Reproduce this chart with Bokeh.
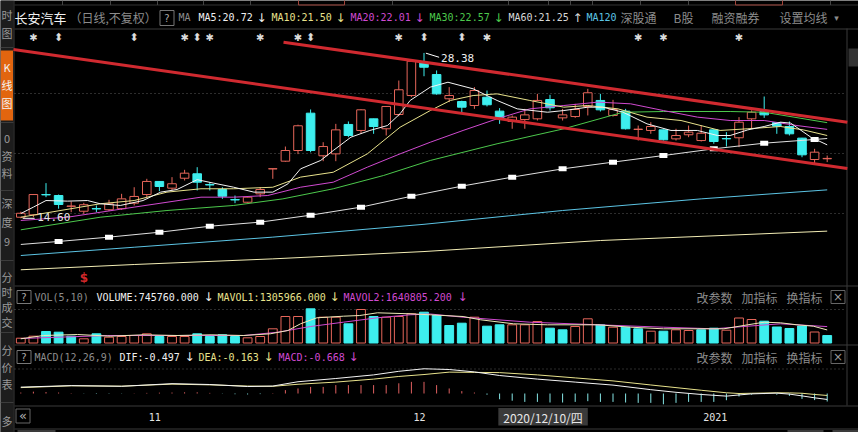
from bokeh.plotting import figure
from bokeh.models import Range1d
from bokeh.core.properties import value
from bokeh.embed import file_html
from bokeh.resources import INLINE

W, H = 858, 432
MONO = "DejaVu Sans Mono"
CJK = "Noto Sans CJK SC"
SANS = "DejaVu Sans"

# ---------------- data ----------------
opens = [14.69, 14.89, 16.58, 16.50, 15.60, 15.19, 15.40, 15.31, 15.40, 15.86,
         16.58, 17.67, 17.11, 17.94, 18.31, 17.40, 17.00, 16.15, 15.94, 16.64,
         18.72, 19.36, 20.25, 23.36, 19.81, 19.97, 22.42, 21.92, 22.89, 22.06,
         23.25, 24.83, 27.56, 26.58, 24.56, 24.33, 24.00, 24.69, 23.53, 22.67,
         22.83, 22.89, 24.50, 22.97, 23.08, 23.92, 24.42, 23.17, 23.53, 22.00,
         21.92, 21.97, 21.22, 21.56, 21.08, 21.97, 21.25, 21.31, 22.89, 23.50,
         22.58, 22.25, 21.28, 19.50, 19.56]
highs = [15.15, 16.62, 17.53, 16.58, 16.00, 15.89, 15.67, 16.14, 16.64, 17.19,
         17.89, 17.70, 18.03, 18.64, 18.86, 17.61, 17.19, 16.50, 16.40, 17.19,
         18.72, 20.58, 22.40, 23.67, 20.94, 22.47, 22.67, 23.70, 22.90, 23.95,
         26.08, 27.75, 28.38, 26.92, 25.53, 24.40, 25.53, 25.25, 23.78, 23.17,
         23.72, 24.97, 24.89, 23.72, 24.14, 25.39, 24.97, 24.47, 23.72, 22.33,
         22.61, 22.00, 22.06, 22.33, 22.33, 22.00, 21.78, 23.03, 23.60, 24.75,
         22.60, 22.67, 21.30, 20.39, 19.83]
lows = [14.60, 14.69, 16.36, 15.40, 15.11, 14.97, 15.11, 15.20, 15.30, 15.67,
        16.36, 16.86, 16.92, 17.75, 16.92, 16.92, 16.22, 15.86, 15.90, 16.36,
        17.89, 19.30, 19.95, 20.10, 19.36, 19.36, 21.36, 21.64, 21.64, 21.50,
        23.10, 24.70, 26.44, 24.90, 24.28, 23.44, 23.72, 23.92, 22.47, 22.06,
        22.06, 22.75, 23.58, 22.75, 22.97, 23.17, 23.50, 23.08, 22.00, 21.08,
        21.64, 21.08, 21.08, 21.36, 21.00, 20.81, 20.58, 20.53, 22.06, 22.97,
        21.64, 21.50, 19.69, 19.14, 19.28]
closes = [15.02, 16.58, 16.55, 15.75, 15.61, 15.73, 15.38, 15.81, 16.22, 16.42,
          17.67, 17.25, 17.48, 18.36, 17.61, 17.38, 16.44, 16.13, 16.36, 17.00,
          18.72, 20.25, 22.31, 20.25, 20.58, 21.97, 21.50, 23.64, 22.25, 23.92,
          25.31, 27.69, 27.19, 24.97, 24.83, 23.86, 25.25, 24.06, 22.97, 23.03,
          23.22, 24.42, 23.81, 23.22, 23.67, 25.06, 23.64, 23.66, 22.06, 22.03,
          22.25, 21.14, 21.50, 21.78, 21.69, 21.00, 21.22, 22.61, 23.44, 23.22,
          22.28, 21.64, 19.89, 20.11, 19.58]
volumes = [4.8e5, 6.8e5, 1.15e6, 1.08e6, 6.8e5, 4.2e5, 9.2e5, 5.8e5, 6.5e5, 7.5e5,
           9.2e5, 6.5e5, 6.5e5, 6.5e5, 9.2e5, 6.5e5, 8.2e5, 6.5e5, 5.2e5, 6.5e5,
           1.42e6, 2.65e6, 2.65e6, 3.42e6, 2.58e6, 2.58e6, 1.92e6, 3.35e6, 2.65e6, 2.58e6,
           2.65e6, 2.92e6, 3.08e6, 2.75e6, 1.75e6, 1.98e6, 2.58e6, 1.68e6, 1.82e6, 1.82e6,
           1.82e6, 2.15e6, 1.48e6, 1.32e6, 1.65e6, 2.42e6, 1.82e6, 1.58e6, 1.58e6, 1.42e6,
           1.18e6, 1.18e6, 1.32e6, 1.25e6, 1.32e6, 1.48e6, 1.28e6, 2.50e6, 2.35e6, 2.18e6,
           1.60e6, 1.45e6, 1.70e6, 1.10e6, 745760]
macd_hist = [0.08, 0.15, 0.12, 0.08, 0.03, -0.02, -0.04, -0.03, -0.02, 0.02,
             0.05, 0.07, 0.08, 0.10, 0.10, 0.05, -0.02, -0.06, -0.08, -0.05,
             0.03, 0.28, 0.42, 0.55, 0.55, 0.70, 0.70, 0.70, 0.70, 0.70,
             0.85, 0.97, 0.97, 0.70, 0.42, 0.20, 0.08, -0.10, -0.48, -0.60,
             -0.70, -0.70, -0.75, -0.75, -0.70, -0.64, -0.70, -0.70, -0.75, -0.78,
             -0.78, -0.90, -0.78, -0.70, -0.70, -0.70, -0.56, -0.25, -0.10, -0.05,
             -0.10, -0.20, -0.45, -0.55, -0.668]

# moving averages, read at sampled bar positions
ma5_i = [0, 1, 2, 3.7, 5.3, 6.3, 7.9, 9.7, 11.1, 12.4, 14, 15.3, 16.9, 18.5, 20, 21.2,
         22.2, 23.8, 24.8, 26.2, 27.7, 29.1, 30.1, 30.9, 32.5, 33.9, 35.9, 37.8, 39.4,
         41.8, 43.1, 45, 46.2, 47.8, 49.7, 51.6, 53.7, 55.3, 56.3, 57.7, 59, 60.3, 61.1,
         62.7, 64]
ma5_v = [15.0, 15.53, 16.08, 16.03, 16.08, 15.81, 15.67, 16.08, 16.78, 17.0, 17.82, 17.53,
         17.19, 16.78, 16.78, 17.47, 18.72, 19.42, 20.25, 21.36, 21.92, 22.33, 23.31, 24.42,
         25.53, 25.94, 25.39, 24.42, 23.72, 23.44, 23.58, 23.86, 23.86, 23.44, 22.47, 21.92,
         21.92, 21.5, 21.5, 21.97, 22.25, 22.61, 22.53, 21.36, 20.72]
ma10_i = [0, 6.3, 9, 11.6, 14.3, 16.9, 20, 22.2, 24.8, 27.5, 30.1, 32.5, 34.1, 35.9, 37.8,
          40.4, 43.1, 45, 47.4, 49.7, 52.4, 55.5, 57.7, 60.3, 62.1, 64]
ma10_v = [14.69, 15.81, 16.08, 16.78, 17.06, 17.06, 17.19, 18.03, 18.44, 19.97, 22.19, 23.58,
          24.42, 24.83, 24.97, 24.42, 23.86, 24.0, 23.72, 23.03, 22.75, 21.92, 22.06, 22.25,
          21.97, 21.50]
ma20_i = [0, 3.7, 9, 14.3, 16.9, 19.6, 22.2, 24.8, 27.5, 30.1, 32.5, 35.1, 37.8, 40.4, 43.1,
          45.8, 48.4, 51, 53.7, 56.3, 59, 61.6, 64]
ma20_v = [14.42, 14.69, 15.53, 16.36, 16.36, 16.5, 17.19, 17.61, 18.86, 19.97, 20.94, 21.92,
          22.89, 23.72, 24.0, 24.28, 24.14, 23.58, 23.03, 22.75, 22.75, 22.33, 22.01]
ma30_i = [0, 6.3, 11.6, 16.9, 20.8, 24.8, 28.8, 32.5, 37.8, 43.1, 47.8, 51, 56.3, 59, 64]
ma30_v = [13.64, 14.69, 15.25, 15.67, 16.22, 17.06, 18.17, 19.42, 20.81, 22.06, 23.44, 23.5,
          23.5, 23.44, 22.57]
ma60_i = [0, 3, 7, 11, 15, 19, 23, 27, 31, 35, 39, 43, 47, 51, 55, 59, 63, 64]
ma60_v = [12.42, 12.67, 13.03, 13.44, 13.94, 14.28, 14.86, 15.53, 16.44, 17.28, 18.03, 18.72,
          19.28, 19.83, 20.39, 20.86, 21.17, 21.25]
ma120_i = [0, 9, 20, 32, 43, 54, 64]
ma120_v = [11.5, 12.19, 13.03, 14.1, 15.25, 16.22, 16.97]
ma250_i = [0, 9, 20, 32, 46, 64]
ma250_v = [10.31, 10.75, 11.22, 11.83, 12.75, 13.53]

mv1_i = [0, 1.8, 4.5, 7.1, 9.7, 12.4, 15.1, 17.7, 19.8, 21.2, 22.2, 23.5, 25.6, 26.9, 28.3,
         30.9, 32.5, 35.1, 36.5, 39.1, 41.8, 45.8, 48.4, 51, 53.7, 55.8, 57.7, 59, 60.3,
         61.6, 62.9, 64]
mv1_v = [4.2e5, 7.5e5, 8.5e5, 6.8e5, 8.2e5, 7.5e5, 8.2e5, 7.5e5, 9.2e5, 1.25e6, 1.92e6,
         2.52e6, 2.68e6, 2.75e6, 3.02e6, 2.92e6, 2.82e6, 2.65e6, 2.32e6, 1.92e6, 1.82e6,
         1.82e6, 1.58e6, 1.42e6, 1.42e6, 1.42e6, 1.82e6, 2.08e6, 2.02e6, 1.82e6, 1.68e6,
         1305966]
mv2_i = [0, 6.9, 17.7, 20.4, 23, 25.6, 28.3, 30.9, 32.5, 35.1, 40.4, 45.8, 51, 55, 57.7,
         60.3, 64]
mv2_v = [4.5e5, 7.5e5, 7.5e5, 1.08e6, 1.65e6, 2.08e6, 2.52e6, 2.82e6, 2.9e6, 2.58e6,
         2.08e6, 1.82e6, 1.58e6, 1.42e6, 1.68e6, 1.92e6, 1640805.2]

macd_i = [0, 4, 8, 12, 15, 18, 20, 22, 25, 28, 30, 32, 34, 36, 38, 41, 44, 47, 50, 52, 54,
          56, 57, 58, 60, 61, 62, 63, 64]
dif_v = [0.53, 0.66, 0.60, 0.82, 0.75, 0.58, 0.62, 0.98, 1.25, 1.55, 1.85, 2.06, 2.0, 1.8,
         1.5, 1.2, 0.95, 0.7, 0.32, 0.1, -0.08, -0.22, -0.12, -0.03, 0.03, -0.05, -0.2,
         -0.36, -0.497]
dea_v = [0.49, 0.64, 0.61, 0.78, 0.72, 0.62, 0.60, 0.77, 0.95, 1.2, 1.42, 1.58, 1.78, 1.76,
         1.74, 1.55, 1.3, 1.05, 0.71, 0.49, 0.27, 0.06, 0.0, 0.02, 0.06, 0.05, 0.02, -0.08,
         -0.163]

# user-drawn channel lines (bar index, price)
trend1_i = [-0.58, 65.6]
trend1_p = [28.67, 18.75]
trend2_i = [20.85, 65.6]
trend2_p = [29.27, 22.61]

# signal markers on top row
star_idx = [1, 13, 15, 19, 22, 30, 37, 49, 51, 57]
arrow_idx = [3, 9, 14, 23, 32, 35]
grid_prices = [25, 20, 15]

month_idx = [10, 31, 54]
month_lbl = ["11", "12", "2021"]
cursor_idx = 38
cursor_lbl = "2020/12/10/四"

# ---------------- figure ----------------
X0, DX = 20.3, 12.6          # pixel position of bar 0 and bar spacing
p = figure(width=W, height=H, x_range=Range1d(0, W), y_range=Range1d(H, 0),
           output_backend="svg", toolbar_location=None,
           x_axis_type=None, y_axis_type=None, min_border=0)
p.min_border_left = p.min_border_right = p.min_border_top = p.min_border_bottom = 0
p.background_fill_color = "black"
p.border_fill_color = "black"
p.outline_line_color = None
p.extra_x_ranges = {"bar": Range1d(-X0 / DX, (W - X0) / DX)}
p.extra_y_ranges = {
    "price": Range1d(25 - (H - 93) / 12.0, 25 + 93 / 12.0),
    "vol": Range1d(-(H - 342.5) * 1e5, 342.5 * 1e5),
    "macd": Range1d(-(H - 393) / 12.0, 393 / 12.0),
}

RED = "#e6665a"
CYAN = "#3deeee"
YEL = "#e8e28c"
MAG = "#d04ad0"
GRN = "#4cc84c"
BLU = "#5cc4e4"
GRAY = "#8c8c8c"
LINE = "#3a3a3a"

PR = dict(x_range_name="bar", y_range_name="price")
VR = dict(x_range_name="bar", y_range_name="vol")
MR = dict(x_range_name="bar", y_range_name="macd")


def T(x, y, s, color, size=10, font=MONO, align="left", style="normal", **kw):
    p.text(x=[x], y=[y], text=[s], text_color=color, text_font=value(font),
           text_font_size=f"{size}px", text_align=align, text_baseline="middle",
           text_font_style=style, **kw)


# ---- chrome / frame ----
p.quad(left=[0], right=[13], top=[0], bottom=[H], fill_color="#1d1d1d", line_color=None)
p.quad(left=[0], right=[12.5], top=[50], bottom=[120], fill_color="#e2650f", line_color=None)
p.segment(x0=[0] * 6, x1=[13] * 6, y0=[47, 122, 190, 260, 332, 402],
          y1=[47, 122, 190, 260, 332, 402], line_color="#3c3c3c")
side = [("时", 14), ("图", 32), ("K", 66), ("线", 84), ("图", 102), ("0", 138), ("资", 155),
        ("料", 172), ("深", 202), ("度", 221), ("9", 241), ("分", 276), ("时", 291),
        ("成", 306), ("交", 321), ("分", 349), ("价", 366), ("表", 383), ("多", 420)]
for ch, yy in side:
    col = "#f4f4f4" if 50 < yy < 120 else "#9a9a9a"
    T(6.5, yy, ch, col, 11, CJK, "center")

# top tab strip
p.segment(x0=[14], x1=[W], y0=[4.5], y1=[4.5], line_color="#333333")
tabx = [62, 110, 157, 203, 250, 392, 508, 548, 570, 592, 640, 688, 830]
p.segment(x0=tabx, x1=tabx, y0=[0] * len(tabx), y1=[4.5] * len(tabx), line_color="#444444")
p.quad(left=[298, 735], right=[344, 782], top=[-1, -1], bottom=[4.5, 4.5],
       fill_color=None, line_color="#a0443a")

# panel separators
p.segment(x0=[13.5], x1=[13.5], y0=[0], y1=[H], line_color=LINE)
p.segment(x0=[846.5], x1=[846.5], y0=[28], y1=[405], line_color=LINE)
hy = [28.5, 285.5, 344.5, 405.5, 428.5]
p.segment(x0=[14] * 5, x1=[W] * 5, y0=hy, y1=hy, line_color=LINE)
p.quad(left=[848], right=[858], top=[48], bottom=[66], fill_color="#333333", line_color=None)
p.quad(left=[17, 787, 832], right=[55, 823, 858], top=[429.5] * 3, bottom=[433] * 3,
       fill_color="#3a3a3a", line_color=None)

# dotted grid lines
p.segment(x0=[14] * 3, x1=[846] * 3, y0=grid_prices, y1=grid_prices,
          line_color="#5a5a5a", line_dash="1 3", y_range_name="price")
p.segment(x0=[14, 14], x1=[846, 846], y0=[309, 368.5], y1=[309, 368.5],
          line_color="#5a5a5a", line_dash="1 3")

# ---- candles ----
n = len(closes)
idx = list(range(n))
up = [c >= o for o, c in zip(opens, closes)]
ccol = [RED if u else CYAN for u in up]
cfill = ["black" if u else CYAN for u in up]
btop = [max(o, c) for o, c in zip(opens, closes)]
bbot = [min(o, c) for o, c in zip(opens, closes)]
btop = [t + 0.01 if t - b < 0.02 else t for t, b in zip(btop, bbot)]
p.segment(x0=idx, y0=lows, x1=idx, y1=highs, line_color=ccol, **PR)
p.vbar(x=idx, width=0.68, top=btop, bottom=bbot, fill_color=cfill, line_color=ccol, **PR)

# ---- moving averages ----
p.line(ma250_i, ma250_v, line_color="#f2ecb4", **PR)
p.line(ma120_i, ma120_v, line_color=BLU, **PR)
p.line(ma60_i, ma60_v, line_color="#e0e0e0", **PR)
p.rect(x=ma60_i[1:-1], y=ma60_v[1:-1], width=8, height=5, width_units="screen",
       height_units="screen", fill_color="white", line_color=None, **PR)
p.line(ma30_i, ma30_v, line_color=GRN, **PR)
p.line(ma20_i, ma20_v, line_color=MAG, **PR)
p.line(ma10_i, ma10_v, line_color=YEL, **PR)
p.line(ma5_i, ma5_v, line_color="#f4f4f4", **PR)

# channel lines
p.line(trend1_i, trend1_p, line_color="#d02a30", line_width=3, **PR)
p.line(trend2_i, trend2_p, line_color="#d02a30", line_width=3, **PR)

# high / low annotations
p.segment(x0=[32.15], y0=[28.36], x1=[33.2], y1=[28.02], line_color="white", **PR)
T(33.35, 28.0, "28.38", "#f0f0f0", 11, MONO, **PR)
p.segment(x0=[0.15], y0=[14.6], x1=[1.1], y1=[14.6], line_color="white", **PR)
T(1.3, 14.67, "14.60", "#e8e8e8", 11, MONO, **PR)

# signal row
p.text(x=star_idx, y=[36.5] * len(star_idx), text=["✱"] * len(star_idx),
       text_color="#dcdcdc", text_font=value(SANS), text_font_size="10px",
       text_align="center", text_baseline="middle", x_range_name="bar")
p.text(x=arrow_idx, y=[36.5] * len(arrow_idx), text=["⬍"] * len(arrow_idx),
       text_color="#dcdcdc", text_font=value(SANS), text_font_size="11px",
       text_align="center", text_baseline="middle", x_range_name="bar")
T(5, 277, "$", "#d0282a", 12, SANS, "center", "bold", x_range_name="bar")

# ---- volume ----
vup = [closes[0] >= opens[0]] + [closes[i] >= closes[i - 1] for i in range(1, n)]
p.vbar(x=idx, width=0.7, top=volumes, bottom=0,
       fill_color=["black" if u else CYAN for u in vup],
       line_color=[RED if u else CYAN for u in vup], **VR)
p.line(mv2_i, mv2_v, line_color=MAG, **VR)
p.line(mv1_i, mv1_v, line_color="#eeeab8", **VR)

# ---- MACD ----
p.segment(x0=idx, y0=[0] * n, x1=idx, y1=macd_hist,
          line_color=["#e06060" if v > 0 else "#86e6e6" for v in macd_hist], **MR)
p.line(macd_i, dea_v, line_color=YEL, **MR)
p.line(macd_i, dif_v, line_color="#f4f4f4", **MR)

# ---- headers ----
y0 = 17
T(14, y0, "长安汽车", "#f2f2f2", 13, CJK)
T(69, y0, "（日线,不复权）", GRAY, 12, CJK)
T(178, y0, "MA", GRAY)
T(198, y0, "MA5:20.72", "#f0f0f0")
T(256, y0, "↓", "#f0f0f0", 12, SANS)
T(271, y0, "MA10:21.50", YEL)
T(335, y0, "↓", YEL, 12, SANS)
T(350, y0, "MA20:22.01", MAG)
T(414, y0, "↓", MAG, 12, SANS)
T(429, y0, "MA30:22.57", GRN)
T(493, y0, "↓", GRN, 12, SANS)
T(508, y0, "MA60:21.25", "#d8d8d8")
T(572, y0, "↑", "#d8d8d8", 12, SANS)
T(586, y0, "MA120", BLU)
T(620, y0, "深股通", GRAY, 12, CJK)
T(673, y0, "B股", GRAY, 12, CJK)
T(711, y0, "融资融券", GRAY, 12, CJK)
T(779, y0, "设置均线", GRAY, 12, CJK)
T(836, y0, "▾", GRAY, 9, SANS, "center")

qy = [(10, 25, 17.5), (290, 303, 296.5), (350, 363, 356.5)]
for top, bot, cy in qy:
    p.quad(left=[159.5 if cy == 17.5 else 16.5], right=[173.5 if cy == 17.5 else 30.5],
           top=[top], bottom=[bot], fill_color=None, line_color="#777777")
    T(166.5 if cy == 17.5 else 23.5, cy, "?", "#a8a8a8", 10, SANS, "center")

yv = 296.5
T(34, yv, "VOL(5,10)", GRAY)
T(96, yv, "VOLUME:745760.000", "#f0f0f0")
T(203, yv, "↓", "#f0f0f0", 12, SANS)
T(217, yv, "MAVOL1:1305966.000", YEL)
T(329, yv, "↓", YEL, 12, SANS)
T(343, yv, "MAVOL2:1640805.200", MAG)
T(457, yv, "↓", MAG, 12, SANS)
ym = 356.5
T(34, ym, "MACD(12,26,9)", GRAY)
T(119, ym, "DIF:-0.497", "#f0f0f0")
T(184, ym, "↓", "#f0f0f0", 12, SANS)
T(198, ym, "DEA:-0.163", YEL)
T(263, ym, "↓", YEL, 12, SANS)
T(278, ym, "MACD:-0.668", MAG)
T(348, ym, "↓", MAG, 12, SANS)
for yy, top, bot in [(yv, 290, 303), (ym, 350, 363)]:
    T(696, yy, "改参数", GRAY, 12, CJK)
    T(741, yy, "加指标", GRAY, 12, CJK)
    T(786, yy, "换指标", GRAY, 12, CJK)
    p.quad(left=[830.5], right=[844.5], top=[top], bottom=[bot], fill_color=None,
           line_color="#666666")
    T(837.5, yy, "×", "#9a9a9a", 12, SANS, "center")

# ---- time axis ----
p.quad(left=[15.5], right=[29.5], top=[408.5], bottom=[422.5], fill_color=None,
       line_color="#666666")
T(22.5, 415, "«", "#b0b0b0", 13, SANS, "center")
p.text(x=month_idx, y=[416] * 3, text=month_lbl, text_color="#e4e4e4",
       text_font=value(MONO), text_font_size="10px", text_align="left",
       text_baseline="middle", x_offset=2, x_range_name="bar")
p.quad(left=[cursor_idx - 0.1], right=[cursor_idx + 7.0], top=[407.5], bottom=[425],
       fill_color="#3a3a3a", line_color=None, x_range_name="bar")
T(cursor_idx + 3.45, 416.5, cursor_lbl, "#e8e8e8", 12, CJK, "center", x_range_name="bar")

open("out.html", "w").write(file_html(p, INLINE))
